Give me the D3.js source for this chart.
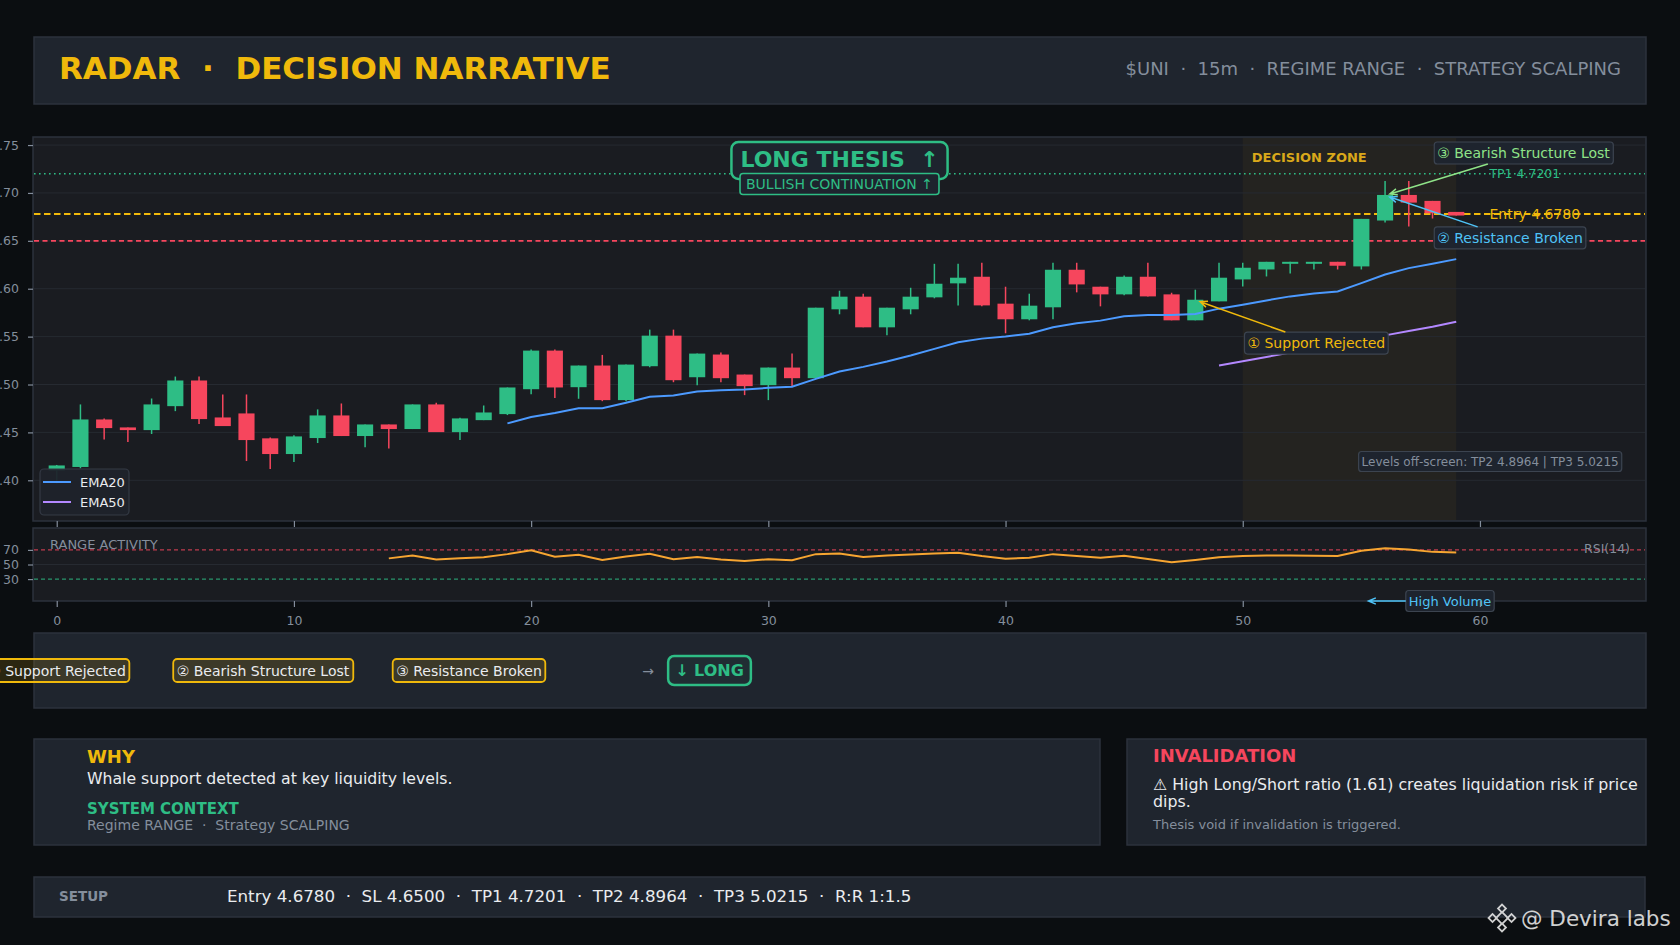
<!DOCTYPE html>
<html>
<head>
<meta charset="utf-8">
<script src="https://cdn.jsdelivr.net/npm/d3@7"></script>
<style>
    html, body { margin: 0; padding: 0; background: #0b0e11; }
    svg { display: block; font-family: "DejaVu Sans", sans-serif; }
    text { white-space: pre; }
</style>
</head>
<body>
<svg id="chart" width="1680" height="945"></svg>
<script>
// 15m candles, bar index 0..59
const opens  = [4.4100, 4.4139, 4.4635, 4.4552, 4.4524, 4.4774, 4.5042, 4.4656, 4.4698, 4.4438,
                4.4274, 4.4441, 4.4677, 4.4462, 4.4583, 4.4535, 4.4792, 4.4503, 4.4628, 4.4691,
                4.4951, 4.5354, 4.4972, 4.5198, 4.4837, 4.5191, 4.5510, 4.5076, 4.5313, 4.5104,
                4.4993, 4.5177, 4.5066, 4.5785, 4.5917, 4.5597, 4.5785, 4.5910, 4.6056, 4.6125,
                4.5844, 4.5681, 4.5806, 4.6198, 4.6021, 4.5941, 4.6125, 4.5941, 4.5670, 4.5868,
                4.6097, 4.6201, 4.6260, 4.6260, 4.6281, 4.6233, 4.6712, 4.6979, 4.6917, 4.6802];
const highs  = [4.4160, 4.4792, 4.4646, 4.4552, 4.4854, 4.5083, 4.5083, 4.4896, 4.4896, 4.4448,
                4.4469, 4.4740, 4.4802, 4.4583, 4.4583, 4.4792, 4.4809, 4.4653, 4.4781, 4.4969,
                4.5365, 4.5365, 4.5198, 4.5309, 4.5208, 4.5573, 4.5573, 4.5323, 4.5333, 4.5104,
                4.5177, 4.5323, 4.5802, 4.5979, 4.5948, 4.5802, 4.6010, 4.6260, 4.6260, 4.6271,
                4.6021, 4.5948, 4.6271, 4.6271, 4.6021, 4.6139, 4.6271, 4.5958, 4.5990, 4.6271,
                4.6271, 4.6281, 4.6281, 4.6281, 4.6281, 4.6729, 4.7125, 4.7125, 4.6917, 4.6802];
const lows   = [4.3965, 4.4125, 4.4427, 4.4399, 4.4483, 4.4722, 4.4587, 4.4566, 4.4201, 4.4118,
                4.4191, 4.4389, 4.4462, 4.4344, 4.4333, 4.4535, 4.4503, 4.4420, 4.4628, 4.4681,
                4.4899, 4.4858, 4.4851, 4.4826, 4.4826, 4.5180, 4.5024, 4.4993, 4.5024, 4.4889,
                4.4837, 4.4983, 4.5066, 4.5733, 4.5597, 4.5514, 4.5733, 4.5900, 4.5826, 4.5816,
                4.5535, 4.5670, 4.5681, 4.5962, 4.5816, 4.5931, 4.5920, 4.5670, 4.5670, 4.5868,
                4.6024, 4.6128, 4.6160, 4.6201, 4.6201, 4.6201, 4.6691, 4.6649, 4.6733, 4.6764];
const closes = [4.4155, 4.4635, 4.4545, 4.4524, 4.4792, 4.5042, 4.4639, 4.4566, 4.4420, 4.4274,
                4.4458, 4.4677, 4.4462, 4.4583, 4.4535, 4.4792, 4.4503, 4.4646, 4.4708, 4.4969,
                4.5354, 4.4969, 4.5198, 4.4837, 4.5208, 4.5510, 4.5045, 4.5323, 4.5066, 4.4983,
                4.5177, 4.5066, 4.5802, 4.5917, 4.5597, 4.5802, 4.5917, 4.6052, 4.6115, 4.5826,
                4.5681, 4.5823, 4.6198, 4.6045, 4.5941, 4.6125, 4.5920, 4.5670, 4.5885, 4.6115,
                4.6219, 4.6281, 4.6281, 4.6281, 4.6240, 4.6729, 4.6979, 4.6899, 4.6788, 4.6764];

// moving averages (first bar they start on)
const ema20Start = 19;
const ema20 = [4.4594, 4.4660, 4.4703, 4.4753, 4.4753, 4.4809, 4.4872, 4.4885, 4.4927, 4.4941,
               4.4948, 4.4965, 4.4976, 4.5059, 4.5135, 4.5184, 4.5240, 4.5302, 4.5372, 4.5441,
               4.5479, 4.5500, 4.5531, 4.5597, 4.5639, 4.5667, 4.5712, 4.5726, 4.5726, 4.5736,
               4.5792, 4.5833, 4.5878, 4.5920, 4.5951, 4.5972, 4.6059, 4.6149, 4.6215, 4.6260,
               4.6309];
const ema50Start = 49;
const ema50 = [4.5198, 4.5243, 4.5288, 4.5333, 4.5378, 4.5423, 4.5468, 4.5513, 4.5558, 4.5603, 4.5656];

// RSI(14)
const rsiStart = 14;
const rsi = [58.4, 62.4, 56.7, 58.4, 59.8, 64.2, 69.6, 60.7, 63.3, 56.2,
             61.1, 64.7, 57.1, 60.2, 56.7, 54.9, 57.1, 55.8, 64.2, 65.1,
             60.2, 62.4, 63.8, 65.1, 66.0, 61.6, 58.0, 59.3, 64.2, 61.6,
             59.3, 62.0, 57.6, 53.1, 56.2, 59.8, 61.6, 62.4, 62.4, 62.0,
             61.6, 68.7, 72.2, 70.4, 67.3, 66.4];

const priceTicks = [4.40, 4.45, 4.50, 4.55, 4.60, 4.65, 4.70, 4.75];
const barTicks = [0, 10, 20, 30, 40, 50, 60];
const rsiTicks = [30, 50, 70];
const rsiBands = [{value: 70, color: "#f6465d"}, {value: 30, color: "#2ebd85"}];

// SL has no visible tag on the chart, only its line
const levelNames = ["TP1", "Entry", "SL"];
const levelValues = [4.7201, 4.6780, 4.6500];
const levelTagged = [true, true, false];
const offScreen = "Levels off-screen: TP2 4.8964 | TP3 5.0215";
const decisionZone = [50, 59];

const callouts = [
    {label: "① Support Rejected",       color: "#f0b90b", at: [50.2, 4.5433], target: [48.2, 4.5864]},
    {label: "② Resistance Broken",      color: "#4fc3f7", at: [58.2, 4.6531], target: [56.2, 4.6957]},
    {label: "③ Bearish Structure Lost", color: "#8fe388", at: [58.2, 4.7417], target: [56.2, 4.6989]}
];

const headerTitle = "RADAR  ·  DECISION NARRATIVE";
const headerMeta = "$UNI  ·  15m  ·  REGIME RANGE  ·  STRATEGY SCALPING";
const chips = ["① Support Rejected", "② Bearish Structure Lost", "③ Resistance Broken"];
const verdict = "↓ LONG";
const whyText = "Whale support detected at key liquidity levels.";
const contextText = "Regime RANGE  ·  Strategy SCALPING";
const invalidationLines = ["⚠ High Long/Short ratio (1.61) creates liquidation risk if price", "dips."];
const invalidationNote = "Thesis void if invalidation is triggered.";
const setupText = "Entry 4.6780  ·  SL 4.6500  ·  TP1 4.7201  ·  TP2 4.8964  ·  TP3 5.0215  ·  R:R 1:1.5";

const C = {
    page: "#0b0e11", panel: "#1a1c21", card: "#1f252e", border: "#2d323c", grid: "#262a31",
    text: "#eaecef", muted: "#848e9c", yellow: "#f0b90b", green: "#2ebd85", red: "#f6465d",
    blue: "#4c9aff", purple: "#b388ff", orange: "#f7a531", sky: "#4fc3f7",
    boxFill: "#1e242e", boxEdge: "#3c4450"
};

const svg = d3.select("#chart");
svg.append("rect").attr("width", 1680).attr("height", 945).attr("fill", C.page);

function card(x0, y0, x1, y1, fill) {
    svg.append("rect")
        .attr("x", x0).attr("y", y0)
        .attr("width", x1 - x0).attr("height", y1 - y0)
        .attr("fill", fill || C.card)
        .attr("stroke", C.border).attr("stroke-width", 1.5);
}

// text with a rounded box behind it, returns the box
function boxedText(g, px, py, str, o) {
    const t = g.append("text")
        .attr("x", px).attr("y", py)
        .attr("text-anchor", o.anchor || "start")
        .attr("dominant-baseline", "central")
        .attr("font-size", o.size)
        .attr("font-weight", o.weight || "normal")
        .attr("fill", o.color)
        .text(str);
    const bb = t.node().getBBox();
    const pad = o.pad || 3, padX = o.padX || pad;
    const box = {x: bb.x - padX, y: bb.y - pad, w: bb.width + 2 * padX, h: bb.height + 2 * pad};
    g.insert("rect", () => t.node())
        .attr("x", box.x).attr("y", box.y)
        .attr("width", box.w).attr("height", box.h)
        .attr("rx", o.rx || 3)
        .attr("fill", o.fill || C.boxFill)
        .attr("stroke", o.stroke || C.boxEdge)
        .attr("stroke-width", o.strokeWidth || 1.2);
    return box;
}

// open arrow from the edge of a box to a point
function arrow(g, box, tx, ty, color) {
    const cx = box.x + box.w / 2, cy = box.y + box.h / 2;
    const dx = tx - cx, dy = ty - cy;
    const t = Math.min(dx ? (box.w / 2) / Math.abs(dx) : Infinity, dy ? (box.h / 2) / Math.abs(dy) : Infinity);
    const sx = cx + dx * t, sy = cy + dy * t;
    const a = Math.atan2(ty - sy, tx - sx), L = 8, s = 0.4;
    g.append("path")
        .attr("d", `M${sx},${sy}L${tx},${ty}` +
            `M${tx - L * Math.cos(a - s)},${ty - L * Math.sin(a - s)}L${tx},${ty}` +
            `L${tx - L * Math.cos(a + s)},${ty - L * Math.sin(a + s)}`)
        .attr("fill", "none").attr("stroke", color).attr("stroke-width", 1.5);
}

function styleAxis(g, size) {
    g.select(".domain").remove();
    g.selectAll(".tick line").attr("stroke", C.muted).attr("stroke-width", 1.2);
    g.selectAll(".tick text").attr("fill", C.muted).attr("font-size", size)
        .attr("font-family", "DejaVu Sans");
}

// ---------- header ----------
card(34, 37, 1646, 104);
svg.append("text").attr("x", 59).attr("y", 79)
    .attr("font-size", 31).attr("font-weight", "bold").attr("fill", C.yellow)
    .text(headerTitle);
svg.append("text").attr("x", 1621).attr("y", 75).attr("text-anchor", "end")
    .attr("font-size", 18).attr("fill", C.muted)
    .text(headerMeta);

// ---------- price panel ----------
const pLeft = 33, pRight = 1646, pTop = 137, pBottom = 521;
const x = d3.scaleLinear().domain([-1, 67]).range([pLeft, pRight]);
const y = d3.scaleLinear().domain([4.3575, 4.7584]).range([pBottom, pTop]);

card(pLeft, pTop, pRight, pBottom, C.panel);

const plot = svg.append("g");
plot.append("rect")
    .attr("x", x(decisionZone[0])).attr("width", x(decisionZone[1]) - x(decisionZone[0]))
    .attr("y", pTop + 1).attr("height", pBottom - pTop - 2)
    .attr("fill", C.yellow).attr("fill-opacity", 0.05);

plot.selectAll(".grid").data(priceTicks).join("line")
    .attr("class", "grid")
    .attr("x1", pLeft + 1).attr("x2", pRight - 1)
    .attr("y1", d => y(d)).attr("y2", d => y(d))
    .attr("stroke", C.grid).attr("stroke-width", 1);

plot.append("text")
    .attr("x", x(decisionZone[0]) + 9).attr("y", pTop + 25)
    .attr("font-size", 13).attr("font-weight", "bold").attr("fill", "#d9a81a")
    .text("DECISION ZONE");

// trade levels
const levelStyle = {
    TP1:   {color: C.green,  width: 1.6, dash: "1.6,3.4", size: 12.5},
    Entry: {color: C.yellow, width: 2,   dash: "6.5,3.5", size: 14},
    SL:    {color: C.red,    width: 1.6, dash: "5,3.5",   size: 13}
};
levelNames.forEach((name, k) => {
    const st = levelStyle[name];
    plot.append("line")
        .attr("x1", pLeft + 1).attr("x2", pRight - 1)
        .attr("y1", y(levelValues[k])).attr("y2", y(levelValues[k]))
        .attr("stroke", st.color).attr("stroke-width", st.width)
        .attr("stroke-dasharray", st.dash);
    if (!levelTagged[k]) return;
    plot.append("text")
        .attr("x", x(60.4)).attr("y", y(levelValues[k]))
        .attr("dominant-baseline", "central")
        .attr("font-size", st.size).attr("fill", st.color)
        .text(`${name} ${levelValues[k].toFixed(4)}`);
});

// candles
const bars = d3.range(opens.length);
const bw = (x(1) - x(0)) * 0.68;
const candleColor = i => closes[i] >= opens[i] ? C.green : C.red;
plot.selectAll(".wick").data(bars).join("line")
    .attr("class", "wick")
    .attr("x1", i => x(i)).attr("x2", i => x(i))
    .attr("y1", i => y(highs[i])).attr("y2", i => y(lows[i]))
    .attr("stroke", candleColor).attr("stroke-width", 1.5);
plot.selectAll(".body").data(bars).join("rect")
    .attr("class", "body")
    .attr("x", i => x(i) - bw / 2).attr("width", bw)
    .attr("y", i => y(Math.max(opens[i], closes[i])))
    .attr("height", i => Math.max(1.8, Math.abs(y(opens[i]) - y(closes[i]))))
    .attr("fill", candleColor);

// EMAs
const emaLine = start => d3.line().x((d, k) => x(start + k)).y(d => y(d));
plot.append("path").datum(ema20).attr("d", emaLine(ema20Start))
    .attr("fill", "none").attr("stroke", C.blue).attr("stroke-width", 2);
plot.append("path").datum(ema50).attr("d", emaLine(ema50Start))
    .attr("fill", "none").attr("stroke", C.purple).attr("stroke-width", 2);

// thesis banner
const banner = svg.append("g");
const mid = (pLeft + pRight) / 2;
{
    const t = banner.append("text").attr("x", mid).attr("y", 167).attr("text-anchor", "middle")
        .attr("font-size", 22).attr("font-weight", "bold").attr("fill", C.green)
        .text("LONG THESIS  ↑");
    const bb = t.node().getBBox();
    banner.insert("rect", () => t.node())
        .attr("x", bb.x - 9).attr("y", 142)
        .attr("width", bb.width + 18).attr("height", 37)
        .attr("rx", 7).attr("fill", C.boxFill)
        .attr("stroke", C.green).attr("stroke-width", 2.5);
}
boxedText(banner, mid, 184, "BULLISH CONTINUATION ↑",
    {anchor: "middle", size: 14, color: C.green, pad: 2.5, padX: 6, rx: 3, stroke: C.green, strokeWidth: 1.6});

// callouts
const notes = svg.append("g");
callouts.forEach(c => {
    const box = boxedText(notes, x(c.at[0]), y(c.at[1]), c.label, {size: 14, color: c.color, pad: 3});
    arrow(notes, box, x(c.target[0]), y(c.target[1]), c.color);
});
boxedText(notes, x(65.85), y(4.4196), offScreen, {anchor: "end", size: 12, color: C.muted, pad: 3});

// price axis and bar ticks
const yAxisG = svg.append("g").attr("transform", `translate(${pLeft},0)`)
    .call(d3.axisLeft(y).tickValues(priceTicks).tickFormat(d3.format(".2f")).tickSize(5).tickPadding(9));
styleAxis(yAxisG, 12.5);
const xTop = svg.append("g").attr("transform", `translate(0,${pBottom})`)
    .call(d3.axisBottom(x).tickValues(barTicks).tickFormat("").tickSize(6));
styleAxis(xTop, 12.5);

// legend
const lg = svg.append("g");
lg.append("rect").attr("x", 40).attr("y", 469).attr("width", 89).attr("height", 46).attr("rx", 4)
    .attr("fill", "#1f232b").attr("fill-opacity", 0.95).attr("stroke", "#343a45").attr("stroke-width", 1.2);
[["EMA20", C.blue], ["EMA50", C.purple]].forEach(([name, col], k) => {
    const ly = 482 + k * 20;
    lg.append("line").attr("x1", 43).attr("x2", 71).attr("y1", ly).attr("y2", ly)
        .attr("stroke", col).attr("stroke-width", 2);
    lg.append("text").attr("x", 80).attr("y", ly).attr("dominant-baseline", "central")
        .attr("font-size", 13).attr("fill", C.text).text(name);
});

// ---------- RSI panel ----------
const rTop = 528, rBottom = 601;
const yR = d3.scaleLinear().domain([0, 100]).range([rBottom, rTop]);
card(pLeft, rTop, pRight, rBottom, C.panel);
const rsiG = svg.append("g");
rsiG.append("line").attr("x1", pLeft + 1).attr("x2", pRight - 1)
    .attr("y1", yR(50)).attr("y2", yR(50)).attr("stroke", C.grid);
rsiG.selectAll(".band").data(rsiBands).join("line")
    .attr("x1", pLeft + 1).attr("x2", pRight - 1)
    .attr("y1", d => yR(d.value)).attr("y2", d => yR(d.value))
    .attr("stroke", d => d.color).attr("stroke-opacity", 0.75)
    .attr("stroke-width", 1.2).attr("stroke-dasharray", "4,3");
rsiG.append("path").datum(rsi)
    .attr("d", d3.line().x((d, k) => x(rsiStart + k)).y(d => yR(d)))
    .attr("fill", "none").attr("stroke", C.orange).attr("stroke-width", 2);
rsiG.append("text").attr("x", 50).attr("y", 544).attr("dominant-baseline", "central")
    .attr("font-size", 13).attr("fill", C.muted).text("RANGE ACTIVITY");
rsiG.append("text").attr("x", 1630).attr("y", 548).attr("text-anchor", "end")
    .attr("dominant-baseline", "central")
    .attr("font-size", 12.5).attr("fill", C.muted).text("RSI(14)");

const rAxisG = svg.append("g").attr("transform", `translate(${pLeft},0)`)
    .call(d3.axisLeft(yR).tickValues(rsiTicks).tickSize(5).tickPadding(9));
styleAxis(rAxisG, 12.5);
const xAxisG = svg.append("g").attr("transform", `translate(0,${rBottom})`)
    .call(d3.axisBottom(x).tickValues(barTicks).tickSize(6).tickPadding(9));
styleAxis(xAxisG, 12.5);

const hv = boxedText(rsiG, x(57), yR(0), "High Volume", {size: 13, color: C.sky, pad: 3});
arrow(rsiG, hv, x(55.3), yR(0), C.sky);

// ---------- narrative row ----------
card(34, 633, 1646, 708);
const row = svg.append("g");
chips.forEach((label, k) => {
    boxedText(row, 57 + k * 206, 670.5, label,
        {anchor: "middle", size: 14, color: C.text, pad: 3.5, rx: 4,
         fill: "rgba(240,185,11,0.14)", stroke: C.yellow, strokeWidth: 1.8});
});
row.append("text").attr("x", 648).attr("y", 670.5).attr("text-anchor", "middle")
    .attr("dominant-baseline", "central").attr("font-size", 14).attr("fill", C.muted).text("→");
boxedText(row, 709.5, 670.5, verdict,
    {anchor: "middle", size: 16, weight: "bold", color: C.green, pad: 5, padX: 7, rx: 6,
     fill: "rgba(46,189,133,0.06)", stroke: C.green, strokeWidth: 2.5});

// ---------- why / invalidation ----------
card(34, 739, 1100, 845);
svg.append("text").attr("x", 87).attr("y", 763).attr("font-size", 18).attr("font-weight", "bold")
    .attr("fill", C.yellow).text("WHY");
svg.append("text").attr("x", 87).attr("y", 784).attr("font-size", 15.7).attr("fill", C.text).text(whyText);
svg.append("text").attr("x", 87).attr("y", 814).attr("font-size", 15).attr("font-weight", "bold")
    .attr("fill", C.green).text("SYSTEM CONTEXT");
svg.append("text").attr("x", 87).attr("y", 830).attr("font-size", 14).attr("fill", C.muted).text(contextText);

card(1127, 739, 1646, 845);
svg.append("text").attr("x", 1153).attr("y", 762).attr("font-size", 18).attr("font-weight", "bold")
    .attr("fill", C.red).text("INVALIDATION");
invalidationLines.forEach((line, k) => {
    svg.append("text").attr("x", 1153).attr("y", 790 + k * 17).attr("font-size", 15.8)
        .attr("fill", C.text).text(line);
});
svg.append("text").attr("x", 1153).attr("y", 829).attr("font-size", 13).attr("fill", C.muted).text(invalidationNote);

// ---------- setup strip ----------
card(34, 877, 1645, 917);
svg.append("text").attr("x", 59).attr("y", 896).attr("dominant-baseline", "central")
    .attr("font-size", 13.5).attr("font-weight", "bold").attr("fill", C.muted).text("SETUP");
svg.append("text").attr("x", 227).attr("y", 896).attr("dominant-baseline", "central")
    .attr("font-size", 16.7).attr("fill", C.text).text(setupText);

// ---------- watermark ----------
const wm = svg.append("g").attr("opacity", 0.9);
const logo = [[0, 0, 4.2], [0, -9.5, 2.8], [0, 9.5, 2.8], [-9.5, 0, 2.8], [9.5, 0, 2.8]];
logo.forEach(([dx, dy, r]) => {
    wm.append("rect").attr("x", -r).attr("y", -r).attr("width", 2 * r).attr("height", 2 * r)
        .attr("transform", `translate(${1502 + dx},${918 + dy}) rotate(45)`)
        .attr("fill", "none").attr("stroke", "#e6e6e6").attr("stroke-width", 1.8);
});
wm.append("text").attr("x", 1521).attr("y", 918).attr("dominant-baseline", "central")
    .attr("font-size", 21.5).attr("fill", "#e6e6e6").text("@ Devira labs");
</script>
</body>
</html>
